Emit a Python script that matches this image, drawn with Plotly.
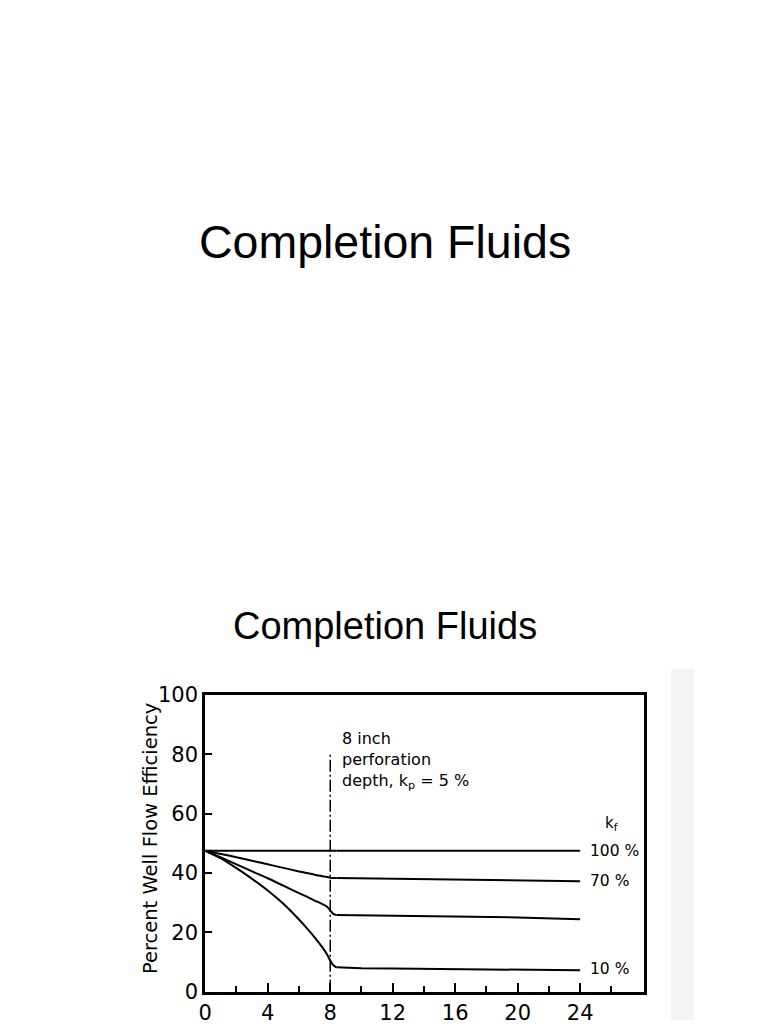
import plotly.graph_objects as go

# ---- data ----
depth = [0, 1, 2, 3, 4, 5, 6, 6.5, 7, 7.5, 7.8, 8.0, 8.2, 8.4, 10, 12, 16, 20, 24]
kf_100 = [47.5] * 19
kf_70 = [47.5, 46.4, 45.3, 44.1, 42.9, 41.7, 40.5, 40.0, 39.4, 38.9, 38.6, 38.4, 38.3, 38.3, 38.2, 38.1, 37.9, 37.6, 37.2]
kf_30 = [47.5, 45.2, 42.9, 40.5, 38.2, 35.7, 33.2, 32.0, 30.7, 29.5, 28.6, 27.4, 26.2, 25.8, 25.7, 25.6, 25.3, 25.0, 24.4]
kf_10 = [47.5, 44.9, 41.6, 38.0, 34.1, 29.6, 24.3, 21.4, 18.3, 14.9, 12.5, 10.5, 8.9, 8.2, 7.9, 7.8, 7.6, 7.4, 7.2]
series_labels = ["100 %", "70 %", "10 %"]
series_label_y = [47.5, 37.2, 7.6]

perf_depth_x = [8, 8]
perf_depth_y = [0, 80]

x_tick_vals = [0, 4, 8, 12, 16, 20, 24]
x_tick_text = ["0", "4", "8", "12", "16", "20", "24"]
x_minor_vals = [2, 6, 10, 14, 18, 22, 26]
y_tick_vals = [0, 20, 40, 60, 80, 100]
y_tick_text = ["0", "20", "40", "60", "80", "100"]

W, H = 768, 1024
DX = -11  # empirical render offset correction
def px(x):
    return (x + DX) / W
def py(y):
    return (H - y) / H

SPLIT = depth.index(8.4) + 1  # curved descent up to 8.4 in, then near-flat

fig = go.Figure()
for ys in [kf_100, kf_70, kf_30, kf_10]:
    fig.add_trace(go.Scatter(x=depth[:SPLIT], y=ys[:SPLIT], mode="lines",
                             line=dict(color="black", width=2, shape="spline", smoothing=0.6),
                             showlegend=False, hoverinfo="skip"))
    fig.add_trace(go.Scatter(x=depth[SPLIT - 1:], y=ys[SPLIT - 1:], mode="lines",
                             line=dict(color="black", width=2),
                             showlegend=False, hoverinfo="skip"))
fig.add_trace(go.Scatter(x=perf_depth_x, y=perf_depth_y, mode="lines",
                         line=dict(color="black", width=1.5, dash="12px,3px,2px,3px"),
                         showlegend=False, hoverinfo="skip"))

tick_font = dict(family="DejaVu Sans", size=21, color="black")
fig.update_layout(
    width=W, height=H,
    margin=dict(l=0, r=0, t=0, b=0),
    paper_bgcolor="white", plot_bgcolor="white",
    xaxis=dict(domain=[px(203), px(646)], range=[0, 28.1], showgrid=False, zeroline=False,
               showline=True, linecolor="black", linewidth=2.5, mirror=True,
               tickmode="array", tickvals=x_tick_vals, ticktext=x_tick_text,
               ticks="inside", ticklen=9, tickwidth=1.5, tickcolor="black",
               minor=dict(tickmode="array", tickvals=x_minor_vals, ticks="inside",
                          ticklen=6, tickwidth=1.5, tickcolor="black", showgrid=False),
               tickfont=tick_font),
    yaxis=dict(domain=[py(995), py(691)], range=[0, 100], showgrid=False, zeroline=False,
               showline=True, linecolor="black", linewidth=3, mirror=True,
               tickmode="array", tickvals=y_tick_vals, ticktext=y_tick_text,
               ticks="inside", ticklen=7, tickwidth=1.5, tickcolor="black",
               tickfont=tick_font),
)

annots = []
annots.append(dict(x=px(384), y=py(227), xref="paper", yref="paper", text="Completion Fluids",
                   showarrow=False, font=dict(family="Liberation Sans", size=46.5, color="black"),
                   xanchor="center", yanchor="middle"))
annots.append(dict(x=px(384), y=py(621), xref="paper", yref="paper", text="Completion Fluids",
                   showarrow=False, font=dict(family="Liberation Sans", size=38, color="black"),
                   xanchor="center", yanchor="middle"))
annots.append(dict(x=px(148), y=py(838), xref="paper", yref="paper",
                   text="Percent Well Flow Efficiency", textangle=-90, showarrow=False,
                   font=dict(family="DejaVu Sans", size=19.5, color="black"),
                   xanchor="center", yanchor="middle"))
annots.append(dict(x=8.6, y=89, xref="x", yref="y", align="left",
                   text="8 inch<br>perforation<br>depth, k<sub>p</sub> = 5 %", showarrow=False,
                   font=dict(family="DejaVu Sans", size=16, color="black"),
                   xanchor="left", yanchor="top"))
annots.append(dict(x=26.0, y=56.5, xref="x", yref="y", text="k<sub>f</sub>", showarrow=False,
                   font=dict(family="DejaVu Sans", size=15, color="black"),
                   xanchor="center", yanchor="middle"))
for lab, yv in zip(series_labels, series_label_y):
    annots.append(dict(x=24.5, y=yv, xref="x", yref="y", text=lab, showarrow=False,
                       font=dict(family="DejaVu Sans", size=15.5, color="black"),
                       xanchor="left", yanchor="middle"))
fig.update_layout(annotations=annots)

# faint scanned-edge strip at right
fig.add_shape(type="rect", xref="paper", yref="paper", x0=px(673), x1=px(696), y0=0, y1=py(665),
              fillcolor="#f4f4f4", line=dict(width=0), layer="below")

fig.write_html("out.html")
